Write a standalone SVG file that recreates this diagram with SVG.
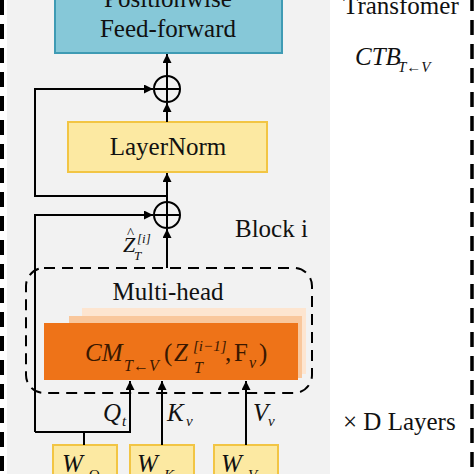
<svg xmlns="http://www.w3.org/2000/svg" width="474" height="474" viewBox="0 0 474 474">
<defs>
<marker id="ah" viewBox="0 0 10 10" refX="10" refY="5" markerWidth="10" markerHeight="9" markerUnits="userSpaceOnUse" orient="auto">
<path d="M0,0 L10,5 L0,10 Z" fill="#000"/>
</marker>
<style>
.t{font-family:"Liberation Serif","Times New Roman",serif;fill:#111;}
.cm{font-family:"Liberation Serif","Times New Roman",serif;fill:#3a1800;}
.ln{fill:none;stroke:#000;stroke-width:2;}
.yb{fill:#fce9a2;stroke:#f2c544;stroke-width:2;}
.plus{fill:none;stroke:#000;stroke-width:2;}
</style>
</defs>
<rect x="0" y="0" width="474" height="474" fill="#fff"/>
<rect x="7" y="0" width="323" height="474" fill="#f2f2f2"/>
<line x1="2" y1="0" x2="2" y2="474" stroke="#000" stroke-width="4" stroke-dasharray="15 9"/>
<line x1="472" y1="-4" x2="472" y2="474" stroke="#000" stroke-width="3.5" stroke-dasharray="15 9"/>

<g id="feedforward">
<rect x="55" y="-20" width="227" height="73" fill="#86c8d8" stroke="#3f9bb4" stroke-width="2"/>
<text class="t" x="168" y="7" font-size="25" text-anchor="middle">Positionwise</text>
<text class="t" x="168" y="37" font-size="25" text-anchor="middle">Feed-forward</text>
</g>

<g id="plus1">
<circle class="plus" cx="167" cy="89" r="13"/>
<line class="ln" x1="154" y1="89" x2="180" y2="89"/>
<line class="ln" x1="167" y1="76" x2="167" y2="102"/>
</g>

<g id="layernorm">
<rect class="yb" x="68" y="122" width="199" height="50"/>
<text class="t" x="168" y="155" font-size="25" text-anchor="middle">LayerNorm</text>
</g>

<g id="plus2">
<circle class="plus" cx="167" cy="215" r="13"/>
<line class="ln" x1="154" y1="215" x2="180" y2="215"/>
<line class="ln" x1="167" y1="202" x2="167" y2="228"/>
</g>

<g id="multihead">
<rect x="26" y="268" width="286" height="125" rx="18" ry="18" fill="none" stroke="#000" stroke-width="2" stroke-dasharray="11 7"/>
<text class="t" x="168" y="300" font-size="25" text-anchor="middle">Multi-head</text>
<rect x="82" y="308" width="224" height="66" fill="#fde5d0"/>
<rect x="69" y="316" width="233" height="62" fill="#f9c79c"/>
<rect x="44" y="323" width="254" height="57" fill="#ee7318"/>
<text class="cm" x="85" y="361" font-size="25" font-style="italic">CM</text>
<text class="cm" x="124" y="371" font-size="16" font-style="italic">T←V</text>
<text class="cm" x="164" y="361" font-size="25">(</text>
<text class="cm" x="174" y="361" font-size="25" font-style="italic">Z</text>
<text class="cm" x="193" y="351" font-size="15" font-style="italic">[i−1]</text>
<text class="cm" x="194" y="373" font-size="16" font-style="italic">T</text>
<text class="cm" x="225" y="361" font-size="25">,</text>
<text class="cm" x="234" y="361" font-size="25">F</text>
<text class="cm" x="249" y="368" font-size="16" font-style="italic">v</text>
<text class="cm" x="259" y="361" font-size="25">)</text>
</g>

<g id="wq">
<rect class="yb" x="53" y="445" width="64" height="40"/>
<text class="t" x="62" y="472" font-size="25" font-style="italic">W</text>
<text class="t" x="89" y="480" font-size="15">Q</text>
</g>
<g id="wk">
<rect class="yb" x="130" y="445" width="64" height="40"/>
<text class="t" x="137" y="472" font-size="25" font-style="italic">W</text>
<text class="t" x="164" y="480" font-size="15" font-style="italic">K</text>
</g>
<g id="wv">
<rect class="yb" x="214" y="445" width="64" height="40"/>
<text class="t" x="221" y="472" font-size="25" font-style="italic">W</text>
<text class="t" x="248" y="480" font-size="15" font-style="italic">V</text>
</g>

<g id="connectors">
<line class="ln" x1="167" y1="76" x2="167" y2="54" marker-end="url(#ah)"/>
<line class="ln" x1="167" y1="122" x2="167" y2="103" marker-end="url(#ah)"/>
<line class="ln" x1="167" y1="202" x2="167" y2="173" marker-end="url(#ah)"/>
<polyline class="ln" points="167,196 35,196 35,89 153,89" marker-end="url(#ah)"/>
<line class="ln" x1="167" y1="268" x2="167" y2="229" marker-end="url(#ah)"/>
<polyline class="ln" points="84,445 84,432"/>
<polyline class="ln" points="35,432 35,215 153,215" marker-end="url(#ah)"/>
<polyline class="ln" points="35,432 130,432 130,381" marker-end="url(#ah)"/>
<line class="ln" x1="162" y1="445" x2="162" y2="381" marker-end="url(#ah)"/>
<line class="ln" x1="246" y1="445" x2="246" y2="381" marker-end="url(#ah)"/>
</g>

<g id="labels">
<text class="t" x="123" y="252" font-size="22" font-style="italic">Z</text>
<text class="t" x="127" y="238" font-size="15">^</text>
<text class="t" x="137" y="243" font-size="13" font-style="italic">[i]</text>
<text class="t" x="134" y="260" font-size="13" font-style="italic">T</text>
<text class="t" x="235" y="237" font-size="25">Block i</text>
<text class="t" x="103" y="421" font-size="25" font-style="italic">Q</text>
<text class="t" x="122" y="426" font-size="15" font-style="italic">t</text>
<text class="t" x="167" y="421" font-size="25" font-style="italic">K</text>
<text class="t" x="186" y="426" font-size="15" font-style="italic">v</text>
<text class="t" x="253" y="421" font-size="25" font-style="italic">V</text>
<text class="t" x="268" y="426" font-size="15" font-style="italic">v</text>
<text class="t" x="343" y="14" font-size="25">Transfomer</text>
<text class="t" x="355" y="65" font-size="25" font-style="italic">CTB</text>
<text class="t" x="398" y="72" font-size="15" font-style="italic">T←V</text>
<text class="t" x="343" y="430" font-size="25">× D Layers</text>
</g>
</svg>
